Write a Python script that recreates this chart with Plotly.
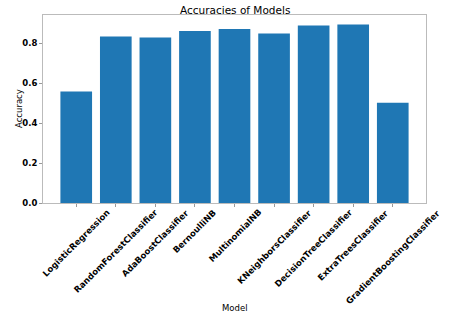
import plotly.graph_objects as go

models = ["LogisticRegression", "RandomForestClassifier", "AdaBoostClassifier", "BernoulliNB",
          "MultinomialNB", "KNeighborsClassifier", "DecisionTreeClassifier",
          "ExtraTreesClassifier", "GradientBoostingClassifier"]
accuracy = [0.558, 0.833, 0.828, 0.860, 0.870, 0.847, 0.888, 0.893, 0.501]
y_ticks = [0.0, 0.2, 0.4, 0.6, 0.8]
y_tick_labels = ["0.0", "0.2", "0.4", "0.6", "0.8"]

positions = list(range(len(models)))
fig = go.Figure(go.Bar(x=positions, y=accuracy, width=0.8,
                       marker=dict(color="#1f77b4", line=dict(width=0))))

font = "DejaVu Sans"
annotations = [
    dict(text="Accuracies of Models", xref="paper", yref="paper", x=0.5, y=1,
         yanchor="bottom", xanchor="center", showarrow=False, yshift=-3,
         font=dict(size=10.5, family=font, color="black")),
    dict(text="Model", xref="paper", yref="paper", x=0.5, y=0, yanchor="middle",
         xanchor="center", showarrow=False, yshift=-105,
         font=dict(size=8.5, family=font, color="black")),
    dict(text="Accuracy", xref="paper", yref="paper", x=0, y=0.5, xanchor="center",
         yanchor="middle", showarrow=False, textangle=-90, xshift=-24,
         font=dict(size=8.5, family=font, color="black")),
]
for p, name in zip(positions, models):
    annotations.append(dict(text="<b>" + name + "</b>", xref="x", yref="paper", x=p, y=0,
                            xanchor="center", yanchor="top", textangle=-45, showarrow=False,
                            yshift=-3, borderpad=0,
                            font=dict(size=8.5, family=font, color="black")))

fig.update_layout(
    width=474, height=325,
    margin=dict(l=43, r=48, t=15, b=122),
    paper_bgcolor="white", plot_bgcolor="white",
    showlegend=False,
    font=dict(family=font, color="black"),
    annotations=annotations,
)
fig.update_xaxes(
    range=[-0.84, 8.84], tickmode="array", tickvals=positions, showticklabels=False,
    ticks="outside", ticklen=3, tickcolor="#999", showgrid=False, zeroline=False,
    showline=True, linecolor="#bbb", linewidth=1, mirror=True, automargin=False,
)
fig.update_yaxes(
    range=[0, 0.94], tickmode="array", tickvals=y_ticks, ticktext=y_tick_labels,
    tickfont=dict(size=8.5, family=font, color="black", weight="bold"),
    ticks="outside", ticklen=3, tickcolor="#999", showgrid=False, zeroline=False,
    showline=True, linecolor="#bbb", linewidth=1, mirror=True, automargin=False,
)
fig.write_html("out.html")
